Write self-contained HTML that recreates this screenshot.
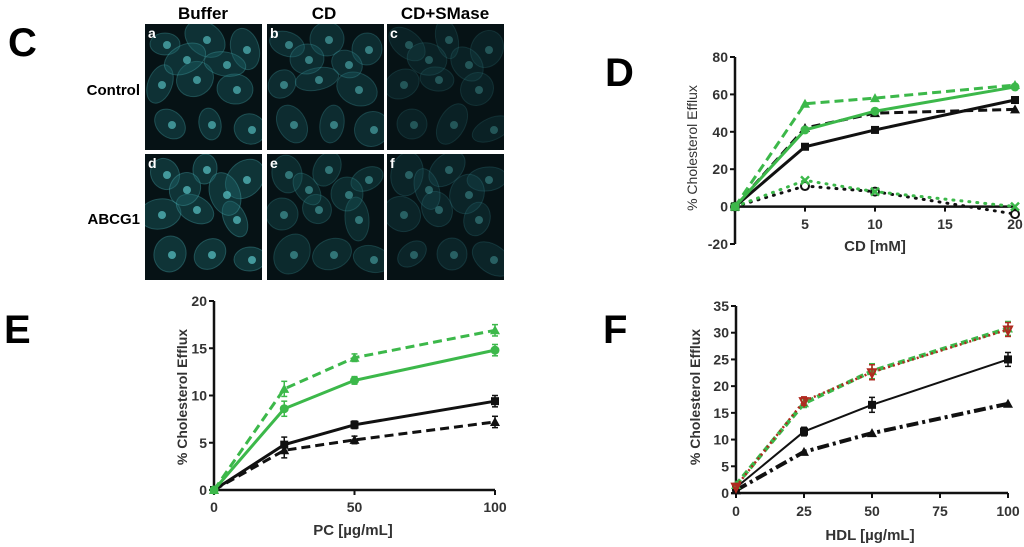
<!DOCTYPE html>
<html><head><meta charset="utf-8">
<style>
html,body{margin:0;padding:0;background:#fff;width:1024px;height:547px;overflow:hidden}
svg{position:absolute;left:0;top:0}
text{font-family:"Liberation Sans",Arial,sans-serif}
</style></head>
<body>
<svg id="fig" width="1024" height="547" viewBox="0 0 1024 547">
 <g>
  <text x="8" y="56" font-size="40" font-weight="bold">C</text>
  <text x="203" y="19" font-size="17" font-weight="bold" text-anchor="middle">Buffer</text>
  <text x="324" y="19" font-size="17" font-weight="bold" text-anchor="middle">CD</text>
  <text x="445" y="19" font-size="17" font-weight="bold" text-anchor="middle">CD+SMase</text>
  <text x="140" y="95" font-size="15" font-weight="bold" text-anchor="end">Control</text>
  <text x="140" y="224" font-size="15" font-weight="bold" text-anchor="end">ABCG1</text>
  <g id="micro"></g>
 </g>
 <g id="panelD"></g>
 <g id="panelE"></g>
 <g id="panelF"></g>
</svg>
<script>
// ---------- Panel D data ----------
const dX = [0, 5, 10, 20];
const dGreenDash = [0, 55, 58, 65];
const dGreenSolid = [0, 41, 51, 64];
const dBlackDash = [0, 42, 50, 52];
const dBlackSolid = [0, 32, 41, 57];
const dGreenDot = [0, 14, 8, 0];
const dBlackDot = [0, 11, 8, -4];
const dYTicks = [-20, 0, 20, 40, 60, 80];
const dXTicks = [5, 10, 15, 20];
// ---------- Panel E data ----------
const eX = [0, 25, 50, 100];
const eGreenDash = [0, 10.7, 14, 16.9];
const eGreenSolid = [0, 8.6, 11.6, 14.8];
const eBlackSolid = [0, 4.8, 6.9, 9.4];
const eBlackDash = [0, 4.2, 5.3, 7.2];
const eErr = [0, 0.8, 0.4, 0.6];
const eYTicks = [0, 5, 10, 15, 20];
const eXTicks = [0, 50, 100];
// ---------- Panel F data ----------
const fX = [0, 25, 50, 100];
const fGreenDash = [1.5, 16.8, 22.8, 30.8];
const fRedDot = [1.2, 17.2, 22.6, 30.6];
const fBlackSolid = [1, 11.5, 16.5, 25];
const fBlackDash = [0.5, 7.7, 11.2, 16.7];
const fErr = [0.3, 0.8, 1.4, 1.3];
const fYTicks = [0, 5, 10, 15, 20, 25, 30, 35];
const fXTicks = [0, 25, 50, 75, 100];

const NS = "http://www.w3.org/2000/svg";
function mk(parent, tag, attrs){const e=document.createElementNS(NS,tag);for(const k in attrs)e.setAttribute(k,attrs[k]);parent.appendChild(e);return e;}
function scale(d0,d1,r0,r1){return v=>r0+(v-d0)/(d1-d0)*(r1-r0);}

// micrographs
const micro = document.getElementById('micro');
const tiles = [["a",145,24],["b",267,24],["c",387,24],["d",145,154],["e",267,154],["f",387,154]];
const bright = {a:0.6,b:0.5,c:0.3,d:0.65,e:0.45,f:0.35};
tiles.forEach(([l,x,y],i)=>{
  const g = mk(micro,'g',{});
  
  
  mk(g,'rect',{x:x,y:y,width:117,height:126,fill:'#061215'});
  const cp = mk(g,'clipPath',{id:'cp'+l});
  mk(cp,'rect',{x:x,y:y,width:117,height:126});
  const cg = mk(g,'g',{'clip-path':'url(#cp'+l+')'});
  const pos=[[20,20],[60,15],[100,25],[15,60],[50,55],[90,65],[25,100],[65,100],[105,105],[40,35],[80,40]];
  pos.forEach((p,j)=>{
    const rx=15+((j*7+i*3)%8), ry=11+((j*5+i)%7);
    mk(cg,'ellipse',{cx:x+p[0],cy:y+p[1],rx:rx,ry:ry,transform:`rotate(${(j*37+i*20)%180} ${x+p[0]} ${y+p[1]})`,fill:'#1f6a70','fill-opacity':bright[l]*0.6,stroke:'#4fb8be','stroke-opacity':bright[l]*0.5,'stroke-width':1});
    mk(cg,'circle',{cx:x+p[0]+2,cy:y+p[1]+1,r:4,fill:'#5fd0d2','fill-opacity':bright[l]});
  });
  mk(g,'text',{x:x+3,y:y+14,'font-size':14,'font-weight':'bold',fill:'#fff'}).textContent=l;
});

function panel(gid, cfg){
  const g = document.getElementById(gid);
  const sx = scale(cfg.xd[0],cfg.xd[1],cfg.xr[0],cfg.xr[1]);
  const sy = scale(cfg.yd[0],cfg.yd[1],cfg.yr[0],cfg.yr[1]);
  const lab = mk(g,'text',{x:cfg.lx,y:cfg.ly,'font-size':40,'font-weight':'bold'});
  lab.textContent=cfg.letter;
  
  
  const ax = mk(g,'g',{stroke:'#111','stroke-width':2.5});
  
  
  mk(ax,'line',{x1:sx(cfg.xd[0]),x2:sx(cfg.xd[0]),y1:sy(cfg.yd[0]),y2:sy(cfg.yd[1])});
  mk(ax,'line',{x1:sx(cfg.xd[0]),x2:sx(cfg.xd[1]),y1:sy(cfg.xAxisAt),y2:sy(cfg.xAxisAt)});
  cfg.yt.forEach(t=>{
    mk(ax,'line',{x1:sx(cfg.xd[0])-5,x2:sx(cfg.xd[0]),y1:sy(t),y2:sy(t),'stroke-width':2});
    const tx = mk(g,'text',{x:sx(cfg.xd[0])-7,y:sy(t)+5,'font-size':14,'font-weight':'bold','text-anchor':'end',fill:'#333'});
    tx.textContent=t;
    
    
  });
  cfg.xt.forEach(t=>{
    mk(ax,'line',{x1:sx(t),x2:sx(t),y1:sy(cfg.xAxisAt),y2:sy(cfg.xAxisAt)+5,'stroke-width':2});
    const tx = mk(g,'text',{x:sx(t),y:cfg.xtY,'font-size':14,'font-weight':'bold','text-anchor':'middle',fill:'#333'});
    tx.textContent=t;
    
    
  });
  const xt = mk(g,'text',{x:cfg.xtitleX,y:cfg.xtitleY,'font-size':15,'font-weight':'bold','text-anchor':'middle',fill:'#333'});
  xt.textContent=cfg.xtitle;
  
  
  const yt = mk(g,'text',{x:0,y:0,'font-size':14,'font-weight':cfg.ytBold?'bold':'normal','text-anchor':'middle',fill:'#333',transform:`translate(${cfg.ytitleX},${cfg.ytitleY}) rotate(-90)`});
  yt.textContent='% Cholesterol Efflux';
  
  
  cfg.series.forEach(s=>{
    const sg = mk(g,'g',{});
    
    
    const pts = cfg.x.map((xv,i)=>sx(xv)+','+sy(s.y[i])).join(' ');
    mk(sg,'polyline',{points:pts,fill:'none',stroke:s.c,'stroke-width':s.w||3,'stroke-dasharray':s.dash||'none','stroke-linecap':s.cap||'butt'});
    cfg.x.forEach((xv,i)=>{
      const px=sx(xv), py=sy(s.y[i]);
      if(s.err){const e=s.err[i];mk(sg,'line',{x1:px,x2:px,y1:sy(s.y[i]+e),y2:sy(s.y[i]-e),stroke:s.c,'stroke-width':1.5});
        mk(sg,'line',{x1:px-3,x2:px+3,y1:sy(s.y[i]+e),y2:sy(s.y[i]+e),stroke:s.c,'stroke-width':1.5});
        mk(sg,'line',{x1:px-3,x2:px+3,y1:sy(s.y[i]-e),y2:sy(s.y[i]-e),stroke:s.c,'stroke-width':1.5});}
      let m;
      if(s.m==='sq') m=mk(sg,'rect',{x:px-4,y:py-4,width:8,height:8,fill:s.c});
      else if(s.m==='tri') m=mk(sg,'polygon',{points:`${px},${py-5} ${px-5},${py+4} ${px+5},${py+4}`,fill:s.c});
      else if(s.m==='otri') m=mk(sg,'polygon',{points:`${px},${py+5} ${px-4},${py-3} ${px+4},${py-3}`,fill:'none',stroke:s.c,'stroke-width':2});
      else if(s.m==='circ') m=mk(sg,'circle',{cx:px,cy:py,r:4.5,fill:s.c});
      else if(s.m==='ocirc') m=mk(sg,'circle',{cx:px,cy:py,r:4,fill:'#fff',stroke:s.c,'stroke-width':2});
      else if(s.m==='x') m=mk(sg,'path',{d:`M${px-4},${py-4}L${px+4},${py+4}M${px+4},${py-4}L${px-4},${py+4}`,stroke:s.c,'stroke-width':2.5});
      if(m){}
    });
  });
}
const G='#3cb84a', K='#111';
panel('panelD',{letter:'D',lx:605,ly:86,xd:[0,20],xr:[735,1015],yd:[-20,80],yr:[244,57],xAxisAt:0,yt:dYTicks,xt:dXTicks,x:dX,xtY:229,
 xtitle:'CD [mM]',xtitleX:875,xtitleY:251,ytitleX:697,ytitleY:148,ytBold:false,
 series:[
  {name:'black-dotted-open-circle',y:dBlackDot,c:K,dash:'1 7',cap:'round',m:'ocirc'},
  {name:'green-dotted-x',y:dGreenDot,c:G,dash:'1 7',cap:'round',m:'x'},
  {name:'black-solid-square',y:dBlackSolid,c:K,m:'sq'},
  {name:'black-dashed-triangle',y:dBlackDash,c:K,dash:'9 5',m:'tri'},
  {name:'green-solid-circle',y:dGreenSolid,c:G,m:'circ'},
  {name:'green-dashed-triangle',y:dGreenDash,c:G,dash:'9 5',m:'tri'}]});
panel('panelE',{letter:'E',lx:4,ly:343,xd:[0,100],xr:[214,495],yd:[0,20],yr:[490,301],xAxisAt:0,yt:eYTicks,xt:eXTicks,x:eX,xtY:512,
 xtitle:'PC [\u00b5g/mL]',xtitleX:353,xtitleY:535,ytitleX:187,ytitleY:397,ytBold:true,
 series:[
  {name:'black-dashed-triangle',y:eBlackDash,c:K,dash:'9 5',m:'tri',err:eErr},
  {name:'black-solid-square',y:eBlackSolid,c:K,m:'sq',err:eErr},
  {name:'green-solid-circle',y:eGreenSolid,c:G,m:'circ',err:eErr},
  {name:'green-dashed-triangle',y:eGreenDash,c:G,dash:'9 5',m:'tri',err:eErr}]});
panel('panelF',{letter:'F',lx:603,ly:343,xd:[0,100],xr:[736,1008],yd:[0,35],yr:[493,306],xAxisAt:0,yt:fYTicks,xt:fXTicks,x:fX,xtY:516,
 xtitle:'HDL [\u00b5g/mL]',xtitleX:870,xtitleY:540,ytitleX:700,ytitleY:397,ytBold:true,
 series:[
  {name:'black-dashed-triangle',y:fBlackDash,c:K,dash:'12 4 3 4',w:4,m:'tri'},
  {name:'black-solid-square',y:fBlackSolid,c:K,w:2,m:'sq',err:fErr},
  {name:'green-dashed-triangle',y:fGreenDash,c:G,dash:'7 4',w:4,m:'tri',err:fErr},
  {name:'red-dotted',y:fRedDot,c:'#b02a20',dash:'2 3',w:2.5,m:'otri',err:fErr}]});
</script>
</body></html>
